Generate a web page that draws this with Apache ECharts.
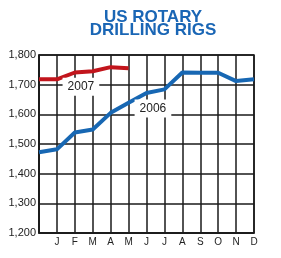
<!DOCTYPE html>
<html><head><meta charset="utf-8">
<script src="https://cdn.jsdelivr.net/npm/echarts@6/dist/echarts.min.js"></script>
<style>html,body{margin:0;padding:0;background:#fff}#c{width:281px;height:258px}</style>
</head><body><div id="c"></div>
<script>
const months = ['', 'J', 'F', 'M', 'A', 'M', 'J', 'J', 'A', 'S', 'O', 'N', 'D'];
const yTicks = [1200, 1300, 1400, 1500, 1600, 1700, 1800];
const rigs2006 = [1472, 1482, 1539, 1549, 1605, 1639, 1672, 1684, 1741, 1740, 1740, 1712, 1718];
const rigs2007 = [1718, 1718, 1741, 1745, 1759, 1755];
const label2006 = {text: '2006', at: [6.36, 1620]};
const label2007 = {text: '2007', at: [2.34, 1693]};

const toPairs = arr => arr.map((v, i) => [i, v]);
const narrow = '"Liberation Sans Narrow", "Arial Narrow", "Liberation Sans", Arial, sans-serif';
const lbl = (o) => ({
  coord: o.at, value: o.text, symbolSize: 0,
  label: {show: true, position: 'inside', formatter: o.text, color: '#222', fontSize: 12,
    fontFamily: narrow, backgroundColor: '#fff', padding: [3, 5]}
});

const chart = echarts.init(document.getElementById('c'), null, {renderer: 'canvas'});
chart.setOption({
  animation: false,
  backgroundColor: '#fff',
  title: {
    text: 'US ROTARY\nDRILLING RIGS', left: 148, top: 6, textAlign: 'center',
    textStyle: {color: '#1a66b5', fontSize: 17, fontWeight: 'bold', lineHeight: 13,
      fontFamily: '"Liberation Sans", Arial, sans-serif'}
  },
  grid: {left: 39, right: 27, top: 55, bottom: 25, show: true, borderColor: '#1a1a1a', borderWidth: 1.5},
  xAxis: {
    type: 'value', min: 0, max: 12, interval: 1,
    axisLine: {show: true, lineStyle: {color: '#1a1a1a', width: 1.5}},
    axisTick: {show: false},
    splitLine: {show: true, lineStyle: {color: '#1a1a1a', width: 1.5}},
    axisLabel: {formatter: v => months[v] || '', color: '#222', fontSize: 10, margin: 4, fontFamily: narrow}
  },
  yAxis: {
    type: 'value', min: yTicks[0], max: yTicks[yTicks.length - 1], interval: 100,
    axisLine: {show: true, lineStyle: {color: '#1a1a1a', width: 1.5}},
    axisTick: {show: false},
    splitLine: {show: true, lineStyle: {color: '#1a1a1a', width: 1.5}},
    axisLabel: {formatter: v => v.toLocaleString('en-US'), color: '#222', fontSize: 11, margin: 3, fontFamily: narrow}
  },
  series: [
    {type: 'line', data: toPairs(rigs2006), symbol: 'none', lineStyle: {color: '#1767b3', width: 4}, z: 3,
      markPoint: {symbol: 'rect', data: [lbl(label2006)]}},
    {type: 'line', data: toPairs(rigs2007), symbol: 'none', lineStyle: {color: '#c2151c', width: 4}, z: 3,
      markPoint: {symbol: 'rect', data: [lbl(label2007)]}}
  ]
});
</script></body></html>
